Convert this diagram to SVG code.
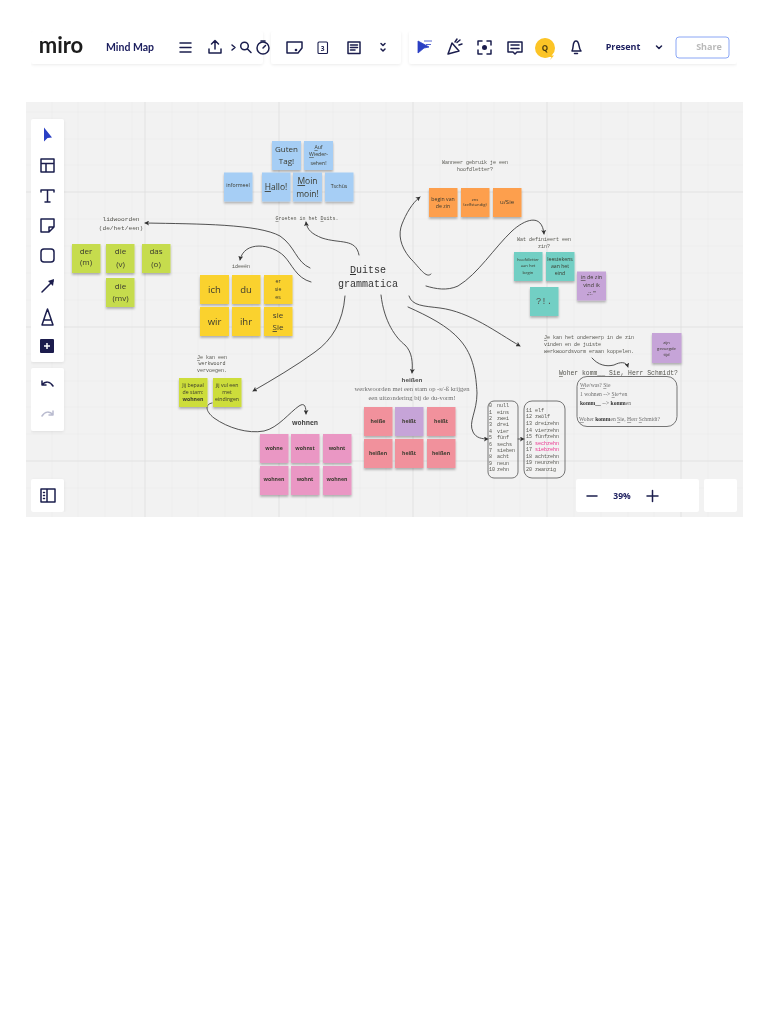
<svg xmlns="http://www.w3.org/2000/svg" width="768" height="1024" viewBox="0 0 768 1024">
<style>
text{font-family:"Open Sans","Liberation Sans",sans-serif;text-anchor:middle;fill:#3a3a2e}
.m{font-family:"Liberation Mono","DejaVu Sans Mono",monospace;font-size:5px;fill:#55554f}
.ml{text-anchor:start}
.s{font-family:"Liberation Serif",serif;fill:#6f6f6f}
.big{font-size:10px;fill:#333}
.sm{font-size:5.2px}
.xs{font-size:4.2px}
.u{text-decoration:underline}
.n{filter:url(#sh)}
.bl{fill:#a6cef5}.gr{fill:#c6dc4e}.ye{fill:#fad22e}.or{fill:#fd9f4d}.te{fill:#72cfc4}.pu{fill:#c6a4d8}.re{fill:#f1919c}.pk{fill:#ea97c4}.li{fill:#cddd3a}
.c{fill:none;stroke:#3f3f3f;stroke-width:.9;stroke-linecap:round}
.a{marker-end:url(#ah)}
.p{fill:#fff}
.i{fill:none;stroke:#1b1f4e;stroke-width:1.5;stroke-linecap:round;stroke-linejoin:round}
.f{fill:#1b1f4e}
.box{fill:none;stroke:#666;stroke-width:.9}
.g1{stroke:#ebebeb;stroke-width:.6}
.g2{stroke:#dedede;stroke-width:.8}
</style>
<defs>
<filter id="sh" x="-20%" y="-20%" width="140%" height="150%"><feDropShadow dx="0" dy="1.8" stdDeviation=".8" flood-color="#000" flood-opacity=".28"/></filter>
<filter id="ps" x="-10%" y="-10%" width="120%" height="130%"><feDropShadow dx="0" dy="1" stdDeviation="1.5" flood-color="#000" flood-opacity=".08"/></filter>
<filter id="soft" x="0" y="0" width="100%" height="100%"><feGaussianBlur stdDeviation=".3"/></filter>
<marker id="ah" markerWidth="5" markerHeight="5" refX="4" refY="2.5" orient="auto" markerUnits="userSpaceOnUse"><path d="M0 0L4.5 2.5L0 5L1 2.5Z" fill="#333"/></marker>
</defs>
<rect width="768" height="1024" fill="#fff"/>
<g id="board">
<rect x="26" y="102" width="717" height="415" fill="#f2f2f2"/>
<path class="g1" d="M52 102V517M78 102V517M105 102V517M132 102V517M172 102V517M198 102V517M225 102V517M252 102V517M306 102V517M333 102V517M360 102V517M386 102V517M440 102V517M467 102V517M494 102V517M520 102V517M574 102V517M601 102V517M628 102V517M654 102V517M708 102V517M26 112H743M26 139H743M26 165H743M26 219H743M26 246H743M26 273H743M26 300H743M26 354H743M26 381H743M26 407H743M26 434H743M26 488H743"/>
<path class="g2" d="M145 102V517M279 102V517M413 102V517M547 102V517M681 102V517M26 192H743M26 327H743M26 461H743"/>
</g>
<g filter="url(#soft)">
<g id="connectors">
<path class="c a" d="M359 255C356 238 340 244 322 238C312 234 307 230 306 222"/>
<path class="c a" d="M310 268C296 262 295 246 280 236C258 224 200 224 145 223"/>
<path class="c a" d="M311 282C296 278 292 264 284 256C272 244 244 240 240 260"/>
<path class="c a" d="M345 296C343 322 332 340 315 352C296 366 272 380 253 391"/>
<path class="c a" d="M381 295C384 322 396 338 405 345C412 352 413 362 412 373"/>
<path class="c a" d="M431 274C426 279 420 268 410 258C400 246 398 234 402 224C406 214 412 203 420 197"/>
<path class="c a" d="M426 286C436 289 447 291 458 286C478 274 494 248 512 231C524 220 542 212 544 234"/>
<path class="c a" d="M409 296C412 306 424 306 440 308C470 312 496 332 520 346"/>
<path class="c a" d="M408 307C428 316 448 326 460 340C474 356 476 375 477 393C477 412 468 422 473 432C476 438 482 439 488 439"/>
<path class="c a" d="M592 358C598 365 606 367 614 365C620 362 626 361 628 367"/>
<path class="c a" d="M212 403C205 404 205 411 214 418C228 428 248 434 264 431C278 428 290 412 299 406C305 402 306 407 306 414"/>
<path class="c a" d="M518 439H524"/>
</g>
<g id="title"><text class="m big" x="368" y="273"><tspan class="u">D</tspan>uitse</text><text class="m big" x="368" y="287">grammatica</text></g>
<g id="labels">
<text class="m" x="121" y="221" style="font-size:6.2px">lidwoorden</text><text class="m" x="121" y="230" style="font-size:6.2px">(de/het/een)</text>
<text class="m" x="307" y="220"><tspan class="u">G</tspan>roeten in het <tspan class="u">D</tspan>uits.</text>
<text class="m" x="241" y="268">ideeën</text>
<text class="m" x="475" y="164">Wanneer gebruik je een</text><text class="m" x="475" y="171">hoofdletter?</text>
<text class="m" x="544" y="241">Wat definieert een</text><text class="m" x="544" y="248">zin?</text>
<text class="m ml" x="544" y="339"><tspan class="u">J</tspan>e kan het onderwerp in de zin</text><text class="m ml" x="544" y="346">vinden en de juiste</text><text class="m ml" x="544" y="352.500">werkwoordsvorm eraan koppelen.</text>
<text class="m ml" x="559" y="375" style="font-size:6.4px"><tspan class="u">W</tspan>oher komm__ <tspan class="u">S</tspan>ie, <tspan class="u">H</tspan>err <tspan class="u">S</tspan>chmidt?</text>
<text class="m" x="212" y="359"><tspan class="u">J</tspan>e kan een</text><text class="m" x="212" y="365">werkwoord</text><text class="m" x="212" y="372">vervoegen.</text>
<text x="412" y="382" style="font-size:6px;font-weight:700;fill:#555">heißen</text>
<text class="s" x="412" y="391" style="font-size:6.6px">werkwoorden met een stam op -s/-ß krijgen</text><text class="s" x="412" y="400" style="font-size:6.6px">een uitzondering bij de du-vorm!</text>
<text x="305" y="425" style="font-size:6.5px;font-weight:700;fill:#444">wohnen</text>
</g>
<g id="n-guten" class="n"><rect class="bl" x="272" y="141" width="29" height="29"/><text x="286.500" y="152" style="font-size:8px">Guten</text><text x="286.500" y="164" style="font-size:8px">Tag!</text></g>
<g id="n-auf" class="n"><rect class="bl" x="304" y="141" width="29" height="29"/><text class="sm" x="318.500" y="149"><tspan class="u">A</tspan>uf</text><text class="sm" x="318.500" y="156"><tspan class="u">W</tspan>ieder-</text><text class="sm" x="318.500" y="165">sehen!</text></g>
<g id="n-informeel" class="n"><rect class="bl" x="224" y="172.500" width="28.500" height="29"/><text class="sm" x="238" y="187">informeel</text></g>
<g id="n-hallo" class="n"><rect class="bl" x="262" y="172.500" width="28.500" height="29"/><text x="276" y="190" style="font-size:8.5px"><tspan class="u">H</tspan>allo!</text></g>
<g id="n-moin" class="n"><rect class="bl" x="293" y="172.500" width="29" height="29"/><text x="307.500" y="184" style="font-size:8.5px"><tspan class="u">M</tspan>oin</text><text x="307.500" y="197" style="font-size:8.5px">moin!</text></g>
<g id="n-tschus" class="n"><rect class="bl" x="325" y="172.500" width="28.500" height="29"/><text class="sm" x="339" y="188">Tschüs</text></g>
<g id="n-der" class="n"><rect class="gr" x="72" y="244" width="28.500" height="29"/><text x="86" y="254" style="font-size:8px">der</text><text x="86" y="265" style="font-size:8px">(m)</text></g>
<g id="n-die" class="n"><rect class="gr" x="106" y="244" width="28.500" height="29"/><text x="120.500" y="254" style="font-size:8px">die</text><text x="120.500" y="267" style="font-size:8px">(v)</text></g>
<g id="n-das" class="n"><rect class="gr" x="142" y="244" width="28.500" height="29"/><text x="156" y="254" style="font-size:8px">das</text><text x="156" y="267" style="font-size:8px">(o)</text></g>
<g id="n-diemv" class="n"><rect class="gr" x="106" y="278" width="28.500" height="29"/><text x="120.500" y="289" style="font-size:8px">die</text><text x="120.500" y="301" style="font-size:8px">(mv)</text></g>
<g id="n-ich" class="n"><rect class="ye" x="200" y="275" width="29" height="29"/><text x="214.500" y="293" style="font-size:9.500px">ich</text></g>
<g id="n-du" class="n"><rect class="ye" x="232" y="275" width="28.500" height="29"/><text x="246" y="293" style="font-size:9.500px">du</text></g>
<g id="n-er" class="n"><rect class="ye" x="264" y="275" width="28.500" height="29"/><text class="sm" x="278" y="283">er</text><text class="sm" x="278" y="291">sie</text><text class="sm" x="278" y="299">es</text></g>
<g id="n-wir" class="n"><rect class="ye" x="200" y="307" width="29" height="29"/><text x="214.500" y="325" style="font-size:9.500px">wir</text></g>
<g id="n-ihr" class="n"><rect class="ye" x="232" y="307" width="28.500" height="29"/><text x="246" y="325" style="font-size:9.500px">ihr</text></g>
<g id="n-sie" class="n"><rect class="ye" x="264" y="307" width="28.500" height="29"/><text x="278" y="318" style="font-size:8px">sie</text><text x="278" y="330" style="font-size:8px"><tspan class="u">S</tspan>ie</text></g>
<g id="n-begin" class="n"><rect class="or" x="429" y="188" width="28.500" height="29"/><text class="sm" x="443" y="201">begin van</text><text class="sm" x="443" y="208">de zin</text></g>
<g id="n-zns" class="n"><rect class="or" x="461" y="188" width="28.500" height="29"/><text class="xs" x="475" y="201">zns</text><text class="xs" x="475" y="206">(zelfstandig)</text></g>
<g id="n-usie" class="n"><rect class="or" x="493" y="188" width="28.500" height="29"/><text x="507" y="204" style="font-size:6px">u/Sie</text></g>
<g id="n-hoofd" class="n"><rect class="te" x="514" y="252" width="28.500" height="29"/><text class="xs" x="528" y="261">hoofdletter</text><text class="xs" x="528" y="267">aan het</text><text class="xs" x="528" y="274">begin</text></g>
<g id="n-lees" class="n"><rect class="te" x="546" y="252" width="28.500" height="29"/><text class="sm" x="560" y="261">leestekens</text><text class="sm" x="560" y="268">aan het</text><text class="sm" x="560" y="275">eind</text></g>
<g id="n-tekens" class="n"><rect class="te" x="530" y="287" width="28.500" height="29"/><text class="m" x="544" y="304" style="font-size:9px">?!.</text></g>
<g id="n-in" class="n"><rect class="pu" x="577" y="271.500" width="29" height="29"/><text x="591.500" y="279" style="font-size:5.5px"><tspan class="u">in</tspan> de zin</text><text x="591.500" y="287" style="font-size:5.5px">vind ik</text><text x="591.500" y="295" style="font-size:5.5px">,;:.'"</text></g>
<g id="n-purple2" class="n"><rect class="pu" x="652" y="333" width="29.500" height="30"/><text class="xs" x="666.500" y="344">zijn</text><text class="xs" x="666.500" y="350">gevoegde</text><text class="xs" x="666.500" y="356">tijd</text></g>
<g id="n-bepaal" class="n"><rect class="li" x="179" y="378" width="28.500" height="29"/><text class="sm" x="193" y="387">Jij bepaal</text><text class="sm" x="193" y="394">de stam:</text><text class="sm" x="193" y="401" style="font-weight:700">wohnen</text></g>
<g id="n-vul" class="n"><rect class="li" x="213" y="378" width="28.500" height="29"/><text class="sm" x="227" y="387">jij vul een</text><text class="sm" x="227" y="394">met</text><text class="sm" x="227" y="401">eindingen</text></g>
<g id="n-w1" class="n"><rect class="pk" x="260" y="434" width="28.500" height="29"/><text class="sm" x="274" y="450" style="font-weight:700">wohne</text></g>
<g id="n-w2" class="n"><rect class="pk" x="291" y="434" width="28.500" height="29"/><text class="sm" x="305" y="450" style="font-weight:700">wohnst</text></g>
<g id="n-w3" class="n"><rect class="pk" x="323" y="434" width="28.500" height="29"/><text class="sm" x="337" y="450" style="font-weight:700">wohnt</text></g>
<g id="n-w4" class="n"><rect class="pk" x="260" y="466" width="28.500" height="29"/><text class="sm" x="274" y="481" style="font-weight:700">wohnen</text></g>
<g id="n-w5" class="n"><rect class="pk" x="291" y="466" width="28.500" height="29"/><text class="sm" x="305" y="481" style="font-weight:700">wohnt</text></g>
<g id="n-w6" class="n"><rect class="pk" x="323" y="466" width="28.500" height="29"/><text class="sm" x="337" y="481" style="font-weight:700">wohnen</text></g>
<g id="n-h1" class="n"><rect class="re" x="364" y="407" width="28.500" height="29"/><text class="sm" x="378" y="423" style="font-weight:700">heiße</text></g>
<g id="n-h2" class="n"><rect class="pu" x="395" y="407" width="28.500" height="29"/><text class="sm" x="409" y="423" style="font-weight:700">heißt</text></g>
<g id="n-h3" class="n"><rect class="re" x="427" y="407" width="28.500" height="29"/><text class="sm" x="441" y="423" style="font-weight:700">heißt</text></g>
<g id="n-h4" class="n"><rect class="re" x="364" y="439" width="28.500" height="29"/><text class="sm" x="378" y="455" style="font-weight:700">heißen</text></g>
<g id="n-h5" class="n"><rect class="re" x="395" y="439" width="28.500" height="29"/><text class="sm" x="409" y="455" style="font-weight:700">heißt</text></g>
<g id="n-h6" class="n"><rect class="re" x="427" y="439" width="28.500" height="29"/><text class="sm" x="441" y="455" style="font-weight:700">heißen</text></g>
<g id="n-box">
<rect class="box" x="577" y="376.500" width="100" height="50" rx="10"/>
<text class="s ml" x="580" y="387" style="font-size:5.6px"><tspan class="u">W</tspan>ie/was? <tspan class="u">S</tspan>ie</text>
<text class="s ml" x="580" y="396" style="font-size:5.6px">1 wohnen --&gt; <tspan class="u">S</tspan>ie+en</text>
<text class="s ml" x="580" y="405" style="font-size:5.6px"><tspan style="font-weight:700;fill:#333">komm__</tspan> --&gt; <tspan style="font-weight:700;fill:#333">komm</tspan>en</text>
<text class="s ml" x="579" y="421" style="font-size:5.6px"><tspan class="u">W</tspan>oher <tspan style="font-weight:700;fill:#333">komm</tspan>en <tspan class="u">S</tspan>ie, <tspan class="u">H</tspan>err <tspan class="u">S</tspan>chmidt?</text>
</g>
<g id="n-num1"><rect class="box" x="488" y="401" width="30" height="77" rx="6"/>
<text class="m ml" x="489" y="407">0</text><text class="m ml" x="497" y="407">null</text><text class="m ml" x="489" y="413.500">1</text><text class="m ml" x="497" y="413.500">eins</text><text class="m ml" x="489" y="420">2</text><text class="m ml" x="497" y="420">zwei</text><text class="m ml" x="489" y="426">3</text><text class="m ml" x="497" y="426">drei</text><text class="m ml" x="489" y="432.500">4</text><text class="m ml" x="497" y="432.500">vier</text><text class="m ml" x="489" y="439">5</text><text class="m ml" x="497" y="439">fünf</text><text class="m ml" x="489" y="445.500">6</text><text class="m ml" x="497" y="445.500">sechs</text><text class="m ml" x="489" y="452">7</text><text class="m ml" x="497" y="452">sieben</text><text class="m ml" x="489" y="458">8</text><text class="m ml" x="497" y="458">acht</text><text class="m ml" x="489" y="464.500">9</text><text class="m ml" x="497" y="464.500">neun</text><text class="m ml" x="489" y="471">10</text><text class="m ml" x="497" y="471">zehn</text></g>
<g id="n-num2"><rect class="box" x="524" y="401" width="41" height="77" rx="8"/>
<text class="m ml" x="526" y="412">11</text><text class="m ml" x="535" y="412">elf</text><text class="m ml" x="526" y="418">12</text><text class="m ml" x="535" y="418">zwölf</text><text class="m ml" x="526" y="425">13</text><text class="m ml" x="535" y="425">dreizehn</text><text class="m ml" x="526" y="431.500">14</text><text class="m ml" x="535" y="431.500">vierzehn</text><text class="m ml" x="526" y="438">15</text><text class="m ml" x="535" y="438">fünfzehn</text><text class="m ml" x="526" y="444.500">16</text><text class="m ml" x="535" y="444.500" style="fill:#ec2d8c">sechzehn</text><text class="m ml" x="526" y="451">17</text><text class="m ml" x="535" y="451" style="fill:#ec2d8c">siebzehn</text><text class="m ml" x="526" y="458">18</text><text class="m ml" x="535" y="458">achtzehn</text><text class="m ml" x="526" y="464">19</text><text class="m ml" x="535" y="464">neunzehn</text><text class="m ml" x="526" y="470.500">20</text><text class="m ml" x="535" y="470.500">zwanzig</text></g>
<g id="ui">
<g filter="url(#ps)"><rect class="p" x="31" y="31" width="232" height="33" rx="3"/><rect class="p" x="271" y="31" width="130" height="33" rx="3"/><rect class="p" x="409" y="31" width="328" height="33" rx="3"/><rect class="p" x="31" y="119" width="33" height="243" rx="2"/><rect class="p" x="31" y="368" width="33" height="63" rx="2"/><rect class="p" x="31" y="479" width="33" height="33" rx="2"/></g>
<rect class="p" x="576" y="479" width="123" height="33" rx="2"/><rect class="p" x="704" y="479" width="33" height="33" rx="2"/>
<text x="61" y="53" style="font-family:Lato,'Open Sans',sans-serif;font-size:22px;font-weight:700;fill:#1a1a1a">miro</text>
<text x="130" y="51" style="font-family:Lato,'Open Sans',sans-serif;font-size:10.5px;font-weight:700;fill:#1f2060">Mind Map</text>
<path class="i" d="M180 43H191M180 47.500H191M180 52H191"/>
<path class="i" d="M215 49V41M211.500 44L215 40.500L218.500 44M209 49V53H221V49"/>
<path class="i" d="M232 45L235 47.500L232 50"/>
<circle class="i" cx="244.500" cy="46" r="3.800"/><path class="i" d="M247.500 49L251 52.500"/>
<circle class="i" cx="263" cy="48" r="6"/><path class="i" d="M263 48L265.500 45.500M261 41H265"/>
<path class="i" d="M287 42H302V48L298 53H287Z"/><circle class="f" cx="296" cy="50" r="1.300"/>
<rect class="i" x="318" y="42" width="9.500" height="11.500" rx="1" style="stroke-width:1.100"/><text x="322.700" y="50.500" style="font-size:6.500px;font-weight:700;fill:#1b1f4e">3</text>
<path class="i" d="M348 42H360V53.500H348ZM350.500 45H357.500M350.500 47.500H357.500M350.500 50H355"/>
<path class="i" d="M381 43.500L383 45.500L385 43.500M381 49L383 51L385 49"/>
<path d="M418 41V53L424 48L429 47L418 41ZM424 41H432M426 44.500H431" fill="#2b3fc4" stroke="#2b3fc4" stroke-width=".8"/>
<path class="i" d="M448 54L452 43L459 51ZM455 42L457 39M459 45L462 44M457 42.500L460 40"/>
<path class="i" d="M478 45V41H482M487 41H491V45M491 50V54H487M482 54H478V50"/><circle class="f" cx="484.500" cy="47.500" r="2.500"/>
<path class="i" d="M508 42H522V52H517L515 54L513 52H508ZM511 45H519M511 48.500H519"/>
<circle cx="545" cy="48" r="10" fill="#fcc425"/><text x="545" y="51" style="font-size:8px;font-weight:700;fill:#4a3b10">Q</text><path d="M552 52L549 57H551.500L550 60L554 55.500H551.500Z" fill="#fcc425"/>
<path class="i" d="M572 51C574 48 572 41 576 41C580 41 578 48 581 51ZM574.500 53.500H577.500"/>
<text x="623" y="50" style="font-size:9px;font-weight:700;fill:#1f2060">Present</text>
<path class="i" d="M656.500 46L659 48.500L661.500 46"/>
<rect x="676" y="37" width="53" height="21" rx="3" fill="#fff" stroke="#8aa6f5" stroke-width="1"/>
<text x="709" y="50" style="font-size:9px;font-weight:700;fill:#b9b9b9">Share</text>
<path d="M44 128V142L47.500 138.500L52 138Z" fill="#2b3fc4" transform="translate(0,-.5)"/>
<path class="i" d="M41 159H54V172H41ZM41 163.500H54M46 163.500V172"/>
<path class="i" d="M41 190H54M47.500 190V202M45 202H50M41 190V192M54 190V192"/>
<path class="i" d="M41 219H54V227L49 232H41ZM54 227H49V232"/>
<rect class="i" x="41" y="249" width="13" height="13" rx="3"/>
<path class="i" d="M42 292L53 281"/><path class="f" d="M54 279L53 286L48 281Z"/>
<path class="i" d="M42 325L45 316L47.500 309L50 316L53 325ZM44 320H51"/>
<rect class="f" x="40" y="339" width="14" height="14" rx="1"/><path d="M47 343V349M44 346H50" stroke="#fff" stroke-width="1.500"/>
<path class="i" d="M42 385C45 381 50 381 53 386M42 381V385H46"/>
<path class="i" d="M53 415C50 411 45 411 42 416M53 411V415H49" style="stroke:#b9bbcf"/>
<path class="i" d="M41 489H55V502H41ZM47 489V502M43.500 492.500H44.500M43.500 495.500H44.500M43.500 498.500H44.500"/>
<path class="i" d="M587 496H597M647 496H658M652.500 490.500V501.500"/>
<text x="622" y="499" style="font-size:8.5px;font-weight:700;fill:#1f2060">39%</text>
</g>
</g>
</svg>
